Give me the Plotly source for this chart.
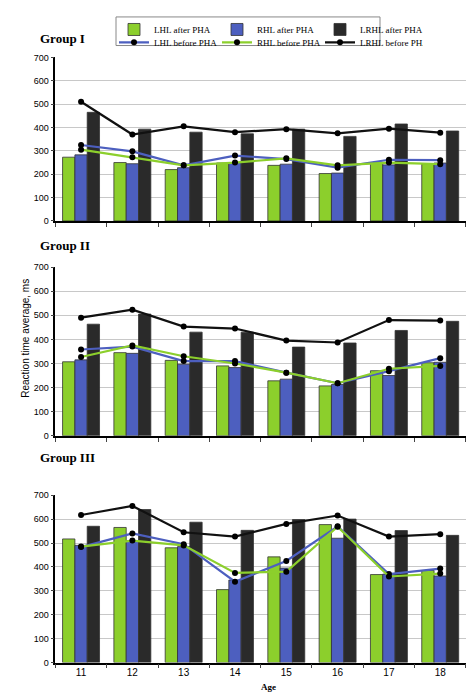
import plotly.graph_objects as go

ages = ["11", "12", "13", "14", "15", "16", "17", "18"]

# Group I
g1_lhl_after = [273, 250, 220, 248, 238, 203, 250, 245]
g1_rhl_after = [283, 245, 228, 250, 243, 205, 240, 248]
g1_lrhl_after = [465, 393, 380, 373, 393, 362, 415, 385]
g1_lhl_before = [325, 298, 238, 280, 265, 228, 262, 260]
g1_rhl_before = [305, 273, 238, 250, 268, 238, 250, 243]
g1_lrhl_before = [510, 370, 405, 380, 393, 375, 395, 378]

# Group II
g2_lhl_after = [307, 345, 313, 290, 228, 207, 270, 303]
g2_rhl_after = [315, 342, 297, 283, 235, 213, 250, 305]
g2_lrhl_after = [463, 505, 430, 430, 368, 385, 437, 475]
g2_lhl_before = [358, 370, 310, 310, 262, 218, 268, 322]
g2_rhl_before = [327, 375, 330, 300, 262, 218, 278, 290]
g2_lrhl_before = [490, 523, 453, 445, 395, 387, 480, 478]

# Group III
g3_lhl_after = [517, 565, 480, 305, 442, 577, 368, 385]
g3_rhl_after = [490, 510, 485, 345, 395, 520, 370, 362]
g3_lrhl_after = [570, 640, 587, 553, 598, 600, 552, 532]
g3_lhl_before = [483, 540, 495, 338, 425, 570, 370, 393]
g3_rhl_before = [485, 510, 490, 375, 380, 568, 360, 372]
g3_lrhl_before = [617, 655, 545, 527, 580, 615, 527, 537]

groups = [
    (g1_lhl_after, g1_rhl_after, g1_lrhl_after, g1_lhl_before, g1_rhl_before, g1_lrhl_before),
    (g2_lhl_after, g2_rhl_after, g2_lrhl_after, g2_lhl_before, g2_rhl_before, g2_lrhl_before),
    (g3_lhl_after, g3_rhl_after, g3_lrhl_after, g3_lhl_before, g3_rhl_before, g3_lrhl_before),
]
titles = ["Group I", "Group II", "Group III"]

GREEN = "#8ccf2c"
BLUE = "#4d5fbf"
BLACK = "#2a2a2a"

# paper domains (bottom = 0)
ydoms = [[0.6955, 0.935], [0.381, 0.628], [0.049, 0.294]]
title_y = [26, 236, 451]

fig = go.Figure()
for i, g in enumerate(groups):
    xa = "x" if i == 0 else "x%d" % (i + 1)
    ya = "y" if i == 0 else "y%d" % (i + 1)
    first = i == 0
    for vals, name, col in zip(g[:3], ["LHL after PHA", "RHL after PHA", "LRHL after PHA"], [GREEN, BLUE, BLACK]):
        fig.add_trace(go.Bar(x=ages, y=vals, name=name, marker=dict(color=col, line=dict(color="#333", width=0.8)),
                             xaxis=xa, yaxis=ya, showlegend=first, legend="legend"))
    for vals, name, col in zip(g[3:], ["LHL before PHA", "RHL before PHA", "LRHL before PHA"], [BLUE, GREEN, "#111"]):
        fig.add_trace(go.Scatter(x=ages, y=vals, name=name, mode="lines+markers",
                                 line=dict(color=col, width=2.2), marker=dict(color="black", size=6),
                                 xaxis=xa, yaxis=ya, showlegend=first, legend="legend2"))
    fig.update_layout(**{
        ("xaxis" if i == 0 else "xaxis%d" % (i + 1)): dict(
            domain=[0.1, 0.966], anchor=ya, type="category", showline=True, linecolor="black", linewidth=1.5,
            ticks="outside", tickson="boundaries", ticklen=4, showticklabels=(i == 2),
            tickfont=dict(family="Arial", size=10, color="black"), showgrid=False),
        ("yaxis" if i == 0 else "yaxis%d" % (i + 1)): dict(
            domain=ydoms[i], anchor=xa, range=[0, 700], dtick=100, showline=True, linecolor="black", linewidth=1.5,
            ticks="outside", ticklen=3, gridcolor="#c8c8c8",
            tickfont=dict(family="Arial Black, Arial", size=9, color="black")),
    })
    fig.add_annotation(text="<b>%s</b>" % titles[i], x=30 / 474, y=1 - title_y[i] / 693, xref="paper", yref="paper",
                       xanchor="left", yanchor="middle", showarrow=False,
                       font=dict(family="Liberation Serif", size=13, color="black"))

fig.add_annotation(text="Reaction time average, ms", textangle=-90, x=10 / 474, y=1 - 330 / 693, xref="paper",
                   yref="paper", showarrow=False, font=dict(family="Arial", size=10, color="black"))
fig.add_annotation(text="<b>Age</b>", x=0.55, y=1 - 684 / 693, xref="paper", yref="paper", showarrow=False,
                   yanchor="middle", font=dict(family="Liberation Serif", size=9, color="black"))

legfont = dict(family="Liberation Serif", size=9, color="black")
fig.update_layout(
    width=474, height=693, margin=dict(l=0, r=0, t=0, b=0),
    plot_bgcolor="white", paper_bgcolor="white",
    barmode="group", bargap=0.28, bargroupgap=0.0,
    legend=dict(orientation="h", x=106 / 474, y=1 - 2 / 693, xanchor="left", yanchor="top", font=legfont,
                entrywidth=58, bgcolor="rgba(0,0,0,0)", itemwidth=30, tracegroupgap=0),
    legend2=dict(orientation="h", x=106 / 474, y=1 - 15 / 693, xanchor="left", yanchor="top", font=legfont,
                 entrywidth=58, bgcolor="rgba(0,0,0,0)", itemwidth=30),
)
fig.add_shape(type="rect", xref="paper", yref="paper", x0=108 / 474, x1=372 / 474, y0=1 - 33 / 693, y1=1 - 4 / 693,
              line=dict(color="#888", width=1))

fig.write_html("out.html")
